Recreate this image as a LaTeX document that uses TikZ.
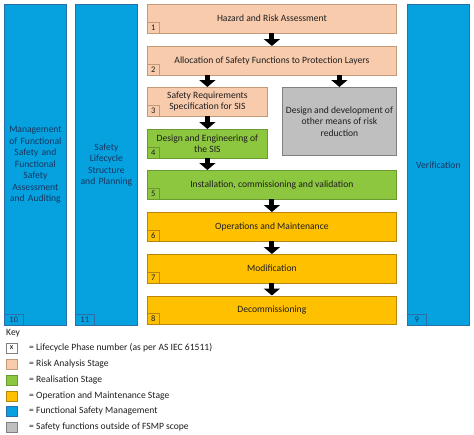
\documentclass[tikz,border=0pt]{standalone}
\usepackage{fontspec}
\setmainfont{Carlito}
\usetikzlibrary{arrows.meta,positioning}
\definecolor{peach}{HTML}{F8CBAD}
\definecolor{peachd}{HTML}{C49A78}
\definecolor{grn}{HTML}{8DC63F}
\definecolor{grnd}{HTML}{6A9A30}
\definecolor{gold}{HTML}{FFC000}
\definecolor{goldd}{HTML}{B8860B}
\definecolor{blu}{HTML}{06A2DF}
\definecolor{blud}{HTML}{2A6FA8}
\definecolor{gry}{HTML}{BFBFBF}
\definecolor{gryd}{HTML}{808080}
\definecolor{btxt}{HTML}{17355F}
\definecolor{dtxt}{HTML}{1E1E1E}
\tikzset{
  base/.style={draw, line width=0.8pt, anchor=north west, align=center, inner sep=2pt,
    font=\fontsize{9.6}{11.5}\selectfont, text=dtxt},
  phase/.style={base, minimum width=249pt, minimum height=28.5pt},
  halfbox/.style={base, minimum width=120pt, minimum height=28.5pt},
  column/.style={base, fill=blu, draw=blud, minimum width=61pt, minimum height=321pt, text=btxt, text width=58pt},
  numlab/.style={draw, line width=0.6pt, anchor=south west, inner sep=0pt, minimum height=11pt,
    minimum width=12pt, font=\fontsize{8.5}{8.5}\selectfont, text=dtxt},
  bnumlab/.style={numlab, draw=blud, minimum width=19pt, text=btxt},
  flow/.style={line width=5pt, -{Triangle[width=16pt,length=7pt]}},
  swatch/.style={draw, line width=0.6pt, minimum width=11pt, minimum height=10pt, inner sep=0pt,
    font=\fontsize{8}{8}\selectfont},
  keytext/.style={anchor=west, inner sep=0pt, font=\fontsize{9.6}{10}\selectfont, text=dtxt},
}
\begin{document}
\begin{tikzpicture}[x=1pt,y=-1pt]
\useasboundingbox (0,0) rectangle (474,434);
% columns
\node[column] (c10) at (4,4) {Management of Functional Safety and Functional Safety Assessment and Auditing};
\node[column] (c11) at (75,4) {Safety Lifecycle Structure and Planning};
\node[column, minimum width=60pt] (c9) at (407,4) {Verification};
\node[bnumlab] (n10) at (c10.south west) {10};
\node[bnumlab] (n11) at (c11.south west) {11};
\node[bnumlab] (n9) at (c9.south west) {9};
% phases
\node[phase, fill=peach, draw=peachd] (b1) at (147,4) {Hazard and Risk Assessment};
\node[phase, fill=peach, draw=peachd] (b2) at (147,46) {Allocation of Safety Functions to Protection Layers};
\node[halfbox, fill=peach, draw=peachd] (b3) at (147,87) {Safety Requirements\\Specification for SIS};
\node[halfbox, fill=grn, draw=grnd] (b4) at (147,129) {Design and Engineering of\\the SIS};
\node[base, fill=gry, draw=gryd, minimum width=114pt, minimum height=68pt] (g) at (282,87) {Design and development of\\other means of risk\\reduction};
\node[phase, fill=grn, draw=grnd] (b5) at (147,170) {Installation, commissioning and validation};
\node[phase, fill=gold, draw=goldd] (b6) at (147,212) {Operations and Maintenance};
\node[phase, fill=gold, draw=goldd] (b7) at (147,254) {Modification};
\node[phase, fill=gold, draw=goldd] (b8) at (147,295.5) {Decommissioning};
\foreach \i/\c in {1/peachd,2/peachd,3/peachd,4/grnd,5/grnd,6/goldd,7/goldd,8/goldd}{
  \node[numlab, draw=\c] (n\i) at (b\i.south west) {\i};
}
% arrows
\draw[flow] (b1.south) -- (b2.north);
\draw[flow] (b3.north |- b2.south) -- (b3.north);
\draw[flow] (g.north |- b2.south) -- (g.north);
\draw[flow] (b3.south) -- (b4.north);
\draw[flow] (b4.south) -- (b4.south |- b5.north);
\draw[flow] (b5.south) -- (b6.north);
\draw[flow] (b6.south) -- (b7.north);
\draw[flow] (b7.south) -- (b8.north);
% key
\node[keytext, anchor=west] (key) at (6,333) {Key};
\node[swatch, draw=gryd, fill=white] (k1) at (11.5,348) {x};
\node[swatch, draw=peachd, fill=peach] (k2) at (11.5,364) {};
\node[swatch, draw=grnd, fill=grn] (k3) at (11.5,380) {};
\node[swatch, draw=goldd, fill=gold] (k4) at (11.5,396) {};
\node[swatch, draw=blud, fill=blu] (k5) at (11.5,411) {};
\node[swatch, draw=gryd, fill=gry] (k6) at (11.5,427) {};
\node[keytext] (t1) at (29,348) {= Lifecycle Phase number (as per AS IEC 61511)};
\node[keytext] (t2) at (29,364) {= Risk Analysis Stage};
\node[keytext] (t3) at (29,380) {= Realisation Stage};
\node[keytext] (t4) at (29,396) {= Operation and Maintenance Stage};
\node[keytext] (t5) at (29,411) {= Functional Safety Management};
\node[keytext] (t6) at (29,427) {= Safety functions outside of FSMP scope};
\end{tikzpicture}
\end{document}
